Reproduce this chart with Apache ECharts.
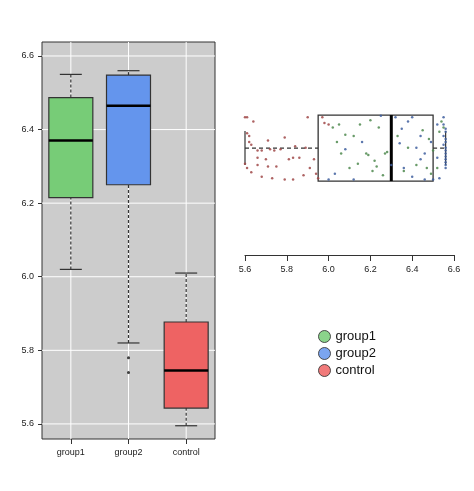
<!DOCTYPE html>
<html><head><meta charset="utf-8">
<script src="https://cdn.jsdelivr.net/npm/echarts@6/dist/echarts.min.js"></script>
<style>html,body{margin:0;padding:0;background:#fff}#c{width:474px;height:491px}</style>
</head><body><div id="c"></div>
<script>
const categories = ['group1','group2','control'];
const colors = ['#77CC77','#6495ED','#EE6363'];
// [low whisker, Q1, median, Q3, high whisker]
const boxStats = [
  [6.02,6.215,6.37,6.487,6.55],
  [5.82,6.25,6.465,6.548,6.56],
  [5.595,5.643,5.745,5.877,6.01]
];
const outliers = [[1,5.78],[1,5.74]];
const yTicks = [5.6,5.8,6.0,6.2,6.4,6.6];
const allStats = [5.6,5.95,6.3,6.5,6.56];
const xTicks = [5.6,5.8,6.0,6.2,6.4,6.6];
const redPts = [[5.6,0.95],[5.61,0.95],[5.64,0.92],[5.61,0.84],[5.62,0.82],[5.62,0.78],[5.63,0.76],[5.66,0.72],[5.68,0.72],[5.72,0.73],[5.74,0.72],[5.71,0.79],[5.77,0.73],[5.79,0.81],[5.81,0.66],[5.84,0.75],[5.83,0.67],[5.86,0.67],[5.89,0.74],[5.93,0.66],[5.91,0.6],[5.88,0.55],[5.83,0.52],[5.79,0.52],[5.73,0.53],[5.68,0.54],[5.63,0.57],[5.61,0.6],[5.66,0.62],[5.71,0.61],[5.75,0.61],[5.6,0.63],[5.7,0.66],[5.66,0.67],[5.98,0.91],[6.0,0.9],[5.97,0.95],[5.95,0.53],[5.94,0.56],[5.9,0.95]];
const greenPts = [[6.02,0.88],[6.05,0.9],[6.08,0.83],[6.12,0.82],[6.15,0.9],[6.2,0.93],[6.24,0.88],[6.27,0.7],[6.22,0.65],[6.18,0.7],[6.14,0.63],[6.1,0.6],[6.06,0.7],[6.04,0.78],[6.28,0.71],[6.33,0.82],[6.38,0.74],[6.42,0.62],[6.45,0.86],[6.48,0.8],[6.5,0.72],[6.53,0.85],[6.55,0.88],[6.54,0.92],[6.52,0.6],[6.49,0.56],[6.47,0.6],[6.26,0.55],[6.23,0.61],[6.36,0.58],[6.21,0.58],[6.19,0.69]];
const bluePts = [[6.56,0.6],[6.56,0.62],[6.56,0.64],[6.56,0.66],[6.56,0.68],[6.56,0.7],[6.56,0.72],[6.56,0.74],[6.55,0.76],[6.56,0.78],[6.56,0.8],[6.55,0.82],[6.56,0.85],[6.56,0.87],[6.55,0.9],[6.55,0.95],[6.53,0.53],[6.52,0.67],[6.5,0.52],[6.46,0.52],[6.4,0.54],[6.36,0.6],[6.32,0.95],[6.35,0.87],[6.38,0.92],[6.44,0.82],[6.42,0.74],[6.46,0.7],[6.3,0.62],[6.12,0.52],[6.08,0.73],[6.0,0.52],[6.03,0.56],[6.16,0.78],[6.25,0.96],[6.4,0.95],[6.52,0.9],[6.49,0.78],[6.44,0.66],[6.34,0.77]];

function leftBox(params, api){
  const i = api.value(0);
  const s = boxStats[i];
  const c = api.coord([i, s[2]]);
  const x = c[0];
  const hw = 22, cw = 11;
  const y = v => api.coord([i, v])[1];
  const dash = {stroke:'#333',lineWidth:1.2,lineDash:[3,2]};
  return {type:'group',children:[
    {type:'line',shape:{x1:x,y1:y(s[0]),x2:x,y2:y(s[1])},style:dash},
    {type:'line',shape:{x1:x,y1:y(s[3]),x2:x,y2:y(s[4])},style:dash},
    {type:'line',shape:{x1:x-cw,y1:y(s[0]),x2:x+cw,y2:y(s[0])},style:{stroke:'#333',lineWidth:1.2}},
    {type:'line',shape:{x1:x-cw,y1:y(s[4]),x2:x+cw,y2:y(s[4])},style:{stroke:'#333',lineWidth:1.2}},
    {type:'rect',shape:{x:x-hw,y:y(s[3]),width:2*hw,height:y(s[1])-y(s[3])},style:{fill:colors[i],stroke:'#333',lineWidth:1.2}},
    {type:'line',shape:{x1:x-hw,y1:y(s[2]),x2:x+hw,y2:y(s[2])},style:{stroke:'#000',lineWidth:2.5}}
  ]};
}
function hGrid(params, api){
  const v = api.value(0);
  const p1 = api.coord([0, v]);
  return {type:'line',shape:{x1:42,y1:p1[1],x2:215,y2:p1[1]},style:{stroke:'#fff',lineWidth:1}};
}
function vGrid(params, api){
  const x = api.coord([api.value(0), 6.0])[0];
  return {type:'line',shape:{x1:x,y1:42,x2:x,y2:439},style:{stroke:'#fff',lineWidth:1}};
}
function rightBox(params, api){
  const s = allStats;
  const yt = api.coord([s[0],0.965])[1], yb = api.coord([s[0],0.51])[1], ym=(yt+yb)/2;
  const X = v => api.coord([v,0.5])[0];
  const st = {stroke:'#333',lineWidth:1.2};
  return {type:'group',children:[
    {type:'line',shape:{x1:X(s[0]),y1:ym,x2:X(s[1]),y2:ym},style:{stroke:'#333',lineWidth:1.2,lineDash:[4,3]}},
    {type:'line',shape:{x1:X(s[3]),y1:ym,x2:X(s[4]),y2:ym},style:{stroke:'#333',lineWidth:1.2,lineDash:[4,3]}},
    {type:'line',shape:{x1:X(s[0]),y1:ym-17,x2:X(s[0]),y2:ym+17},style:st},
    {type:'line',shape:{x1:X(s[4]),y1:ym-17,x2:X(s[4]),y2:ym+17},style:st},
    {type:'rect',shape:{x:X(s[1]),y:yt,width:X(s[3])-X(s[1]),height:yb-yt},style:{fill:'none',stroke:'#333',lineWidth:1.3}},
    {type:'line',shape:{x1:X(s[2]),y1:yt,x2:X(s[2]),y2:yb},style:{stroke:'#000',lineWidth:3}}
  ]};
}
const chart = echarts.init(document.getElementById('c'));
const ptStyle = c => ({color:c,opacity:0.85});
chart.setOption({
  animation:false,
  textStyle:{fontFamily:'Liberation Sans, Arial'},
  grid:[
    {left:42,top:42,width:173,height:397,show:true,backgroundColor:'#cccccc',borderColor:'#333',borderWidth:1},
    {left:245,top:110,width:209,height:145}
  ],
  xAxis:[
    {gridIndex:0,type:'category',data:categories,axisLine:{show:false},
     axisTick:{show:true,alignWithLabel:true,length:5,lineStyle:{color:'#333'}},
     axisLabel:{color:'#222',fontSize:9,margin:9},
     splitLine:{show:false}},
    {gridIndex:1,type:'value',min:5.6,max:6.6,interval:0.2,position:'bottom',
     axisLine:{show:true,lineStyle:{color:'#333',width:1.2}},
     axisTick:{show:true,length:6,lineStyle:{color:'#333'}},
     axisLabel:{color:'#222',fontSize:9,margin:10,formatter:v=>v.toFixed(1)},splitLine:{show:false}}
  ],
  yAxis:[
    {gridIndex:0,type:'value',min:5.559,max:6.638,splitLine:{show:false},axisLine:{show:false},
     axisTick:{show:true,customValues:yTicks,length:4,lineStyle:{color:'#333'}},
     axisLabel:{customValues:yTicks,color:'#222',fontSize:9,margin:8,formatter:v=>v.toFixed(1)}},
    {gridIndex:1,type:'value',min:0,max:1,show:false}
  ],
  legend:{orient:'vertical',left:313,top:325,itemGap:4,icon:'circle',itemWidth:12,itemHeight:12,
    textStyle:{fontSize:13,color:'#111'},
    data:categories.map((n,i)=>({name:n,itemStyle:{color:colors[i],borderColor:'#333',borderWidth:1}}))},
  series:[
    {type:'custom',xAxisIndex:0,yAxisIndex:0,renderItem:hGrid,data:yTicks.map(v=>[v]),encode:{y:0},silent:true,z:1},
    {type:'custom',xAxisIndex:0,yAxisIndex:0,renderItem:vGrid,data:[[0],[1],[2]],encode:{x:0},silent:true,z:1},
    {type:'custom',xAxisIndex:0,yAxisIndex:0,renderItem:leftBox,data:boxStats.map((s,i)=>[i,s[0],s[4]]),encode:{x:0,y:[1,2]},z:3},
    {type:'scatter',xAxisIndex:0,yAxisIndex:0,data:outliers,symbolSize:3,itemStyle:{color:'#111'},z:4},
    {type:'custom',xAxisIndex:1,yAxisIndex:1,renderItem:rightBox,data:[[5.6,0.5]],z:2},
    {name:'control',type:'scatter',xAxisIndex:1,yAxisIndex:1,data:redPts,symbolSize:2.5,itemStyle:ptStyle('#a04848'),z:5},
    {name:'group1',type:'scatter',xAxisIndex:1,yAxisIndex:1,data:greenPts,symbolSize:2.5,itemStyle:ptStyle('#4f8a4f'),z:5},
    {name:'group2',type:'scatter',xAxisIndex:1,yAxisIndex:1,data:bluePts,symbolSize:2.5,itemStyle:ptStyle('#3f5f9f'),z:5}
  ]
});
</script></body></html>
